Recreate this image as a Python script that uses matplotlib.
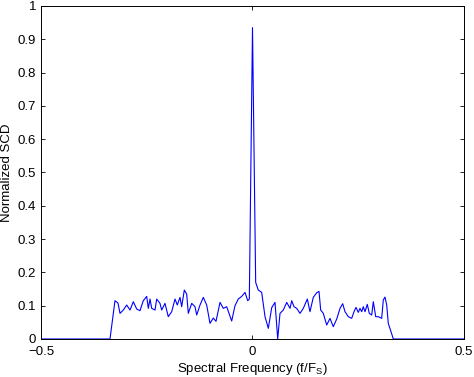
import matplotlib
matplotlib.use("Agg")
import matplotlib.pyplot as plt

plt.rcParams['font.family'] = ['Liberation Sans', 'DejaVu Sans']

freq = [-0.5, -0.3369, -0.3251, -0.318, -0.3132, -0.3054, -0.2974, -0.2896, -0.2818,
        -0.2738, -0.266, -0.2582, -0.2501, -0.2463, -0.2423, -0.2383, -0.2305, -0.2265,
        -0.2187, -0.2147, -0.2069, -0.1991, -0.191, -0.1832, -0.1778, -0.1714, -0.1674,
        -0.1612, -0.1556, -0.1518, -0.1437, -0.1359, -0.1319, -0.1241, -0.1163, -0.1083,
        -0.1005, -0.0927, -0.0863, -0.0768, -0.069, -0.061, -0.0492, -0.0414, -0.0336,
        -0.0255, -0.0177, -0.0113, -0.0075, 0.0, 0.0075, 0.0137, 0.0217, 0.0296, 0.0374,
        0.0454, 0.0532, 0.0596, 0.065, 0.0728, 0.0809, 0.0887, 0.0927, 0.0981, 0.1045,
        0.1123, 0.1201, 0.1296, 0.1359, 0.1437, 0.1518, 0.1572, 0.1612, 0.1674, 0.1754,
        0.1832, 0.191, 0.1991, 0.2069, 0.2132, 0.2187, 0.2265, 0.2345, 0.2400, 0.2447,
        0.2501, 0.2541, 0.2582, 0.2619, 0.266, 0.2714, 0.2761, 0.2818, 0.2856, 0.2913,
        0.2974, 0.3054, 0.3092, 0.3132, 0.3173, 0.321, 0.3274, 0.3329, 0.5]
scd = [0.0, 0.0, 0.115, 0.108, 0.077, 0.087, 0.102, 0.087, 0.112,
       0.09, 0.085, 0.115, 0.128, 0.092, 0.12, 0.092, 0.087, 0.12,
       0.107, 0.087, 0.107, 0.067, 0.082, 0.12, 0.102, 0.125, 0.097,
       0.147, 0.135, 0.077, 0.107, 0.097, 0.072, 0.102, 0.125, 0.102,
       0.047, 0.063, 0.053, 0.11, 0.092, 0.097, 0.054, 0.1, 0.12,
       0.128, 0.14, 0.115, 0.12, 0.935, 0.17, 0.147, 0.14, 0.067, 0.032,
       0.094, 0.11, 0.0, 0.077, 0.087, 0.11, 0.092, 0.115, 0.097, 0.092,
       0.077, 0.092, 0.12, 0.082, 0.125, 0.139, 0.143, 0.087, 0.077, 0.042,
       0.062, 0.037, 0.06, 0.092, 0.106, 0.082, 0.067, 0.062, 0.082, 0.095,
       0.08, 0.092, 0.082, 0.097, 0.082, 0.104, 0.077, 0.072, 0.112, 0.067,
       0.067, 0.062, 0.117, 0.126, 0.102, 0.047, 0.022, 0.0, 0.0]

xticks = [-0.5, 0, 0.5]
xticklabels = ['\u22120.5', '0', '0.5']
yticks = [0, 0.1, 0.2, 0.3, 0.4, 0.5, 0.6, 0.7, 0.8, 0.9, 1]
yticklabels = ['0', '0.1', '0.2', '0.3', '0.4', '0.5', '0.6', '0.7', '0.8', '0.9', '1']

fig = plt.figure(figsize=(4.74, 3.77), dpi=100)
ax = fig.add_axes([0.0865, 0.1008, 0.8924, 0.8833])
ax.plot(freq, scd, color='#0000ff', linewidth=0.8)
ax.set_xlim(-0.5, 0.5)
ax.set_ylim(0, 1)
ax.set_xticks(xticks)
ax.set_xticklabels(xticklabels)
ax.set_yticks(yticks)
ax.set_yticklabels(yticklabels)
ax.tick_params(direction='in', length=3, width=0.6, labelsize=9.5,
               top=True, right=True, colors='black')
ax.tick_params(axis='x', pad=5)
for s in ax.spines.values():
    s.set_linewidth(0.7)
ax.set_xlabel(r'Spectral Frequency (f/F$_\mathregular{S}$)', fontsize=9.5, labelpad=2)
ax.set_ylabel('Normalized SCD', fontsize=9.5, labelpad=3)
fig.savefig('out.png', dpi=100)
